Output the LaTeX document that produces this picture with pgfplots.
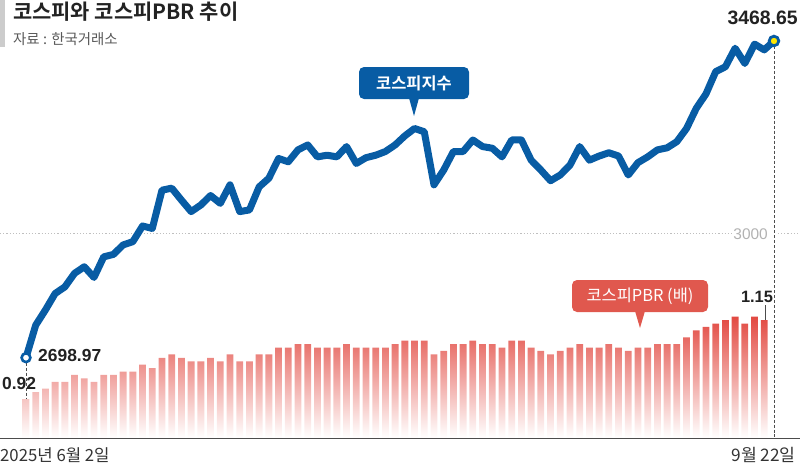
\documentclass[border=0pt]{standalone}
\usepackage{fontspec}
\setmainfont{Noto Sans CJK KR}[BoldFont={Noto Sans CJK KR Bold}]
\newfontfamily\numfont{Liberation Sans}
\usepackage{pgfplots}
\pgfplotsset{compat=1.18}

\definecolor{kblue}{RGB}{8,92,164}
\definecolor{kred}{RGB}{226,74,66}
\definecolor{boxred}{RGB}{224,88,78}
\definecolor{txt}{RGB}{34,34,34}

% both axes share the same frame: 800 x 438 bp, index 0 at x=26bp
\pgfplotsset{frame/.style={at={(0bp,0bp)}, anchor=north west,
    width=800bp, height=438bp, scale only axis,
    xmin=-2.6766, xmax=79.68, hide axis, clip=false}}

\begin{document}
\begin{tikzpicture}
\path[use as bounding box] (0,0) rectangle (800bp,-468bp);

% header
\fill[black!20] (0,0) rectangle (5bp,-47bp);
\node[anchor=west, inner sep=0, text=txt] at (13bp,-12bp)
  {\bfseries\fontsize{21}{24}\selectfont 코스피와 코스피PBR 추이};
\node[anchor=west, inner sep=0, text=black!65] at (13bp,-39bp)
  {\fontsize{14.5}{17}\selectfont 자료 : 한국거래소};

% PBR bars (axis starts at 0.8063)
\begin{axis}[frame, ymin=0, ymax=1.277]
\addplot[ybar, bar width=6.8bp, draw=none, top color=kred, bottom color=white,
  y filter/.expression={y-0.8063}] coordinates {
(0,0.92) (1,0.94) (2,0.95) (3,0.97) (4,0.97) (5,0.99) (6,0.98) (7,0.97) (8,0.99) (9,0.99)
(10,1.00) (11,1.00) (12,1.02) (13,1.01) (14,1.04) (15,1.05) (16,1.04) (17,1.03) (18,1.03) (19,1.04)
(20,1.03) (21,1.05) (22,1.03) (23,1.03) (24,1.05) (25,1.05) (26,1.07) (27,1.07) (28,1.08) (29,1.08)
(30,1.07) (31,1.07) (32,1.07) (33,1.08) (34,1.07) (35,1.07) (36,1.07) (37,1.07) (38,1.08) (39,1.09)
(40,1.09) (41,1.09) (42,1.05) (43,1.06) (44,1.08) (45,1.08) (46,1.09) (47,1.08) (48,1.08) (49,1.07)
(50,1.09) (51,1.09) (52,1.07) (53,1.06) (54,1.05) (55,1.06) (56,1.07) (57,1.08) (58,1.07) (59,1.07)
(60,1.08) (61,1.07) (62,1.06) (63,1.07) (64,1.07) (65,1.08) (66,1.08) (67,1.08) (68,1.10) (69,1.12)
(70,1.13) (71,1.14) (72,1.15) (73,1.16) (74,1.14) (75,1.16) (76,1.15)
};
\end{axis}

% KOSPI line
\begin{axis}[frame, ymin=2503.8, ymax=3568.2]
\addplot[black!25, dotted, line width=1.2bp] coordinates {(-2.6766,3000) (72.6,3000)};
\addplot[black!25, dotted, line width=1.2bp] coordinates {(77.4,3000) (79.68,3000)};
\addplot[black!70, densely dashed, line width=0.7bp] coordinates {(77,3468.65) (77,2503.8)};
\addplot[black!70, densely dashed, line width=0.7bp] coordinates {(0,2698.97) (0,2598.5)};
\addplot[kblue, line width=7bp, line join=round, line cap=round] coordinates {
(0,2698.97) (1,2778) (2,2815) (3,2855) (4,2871) (5,2904) (6,2920) (7,2894) (8,2944) (9,2950)
(10,2973) (11,2981) (12,3019) (13,3013) (14,3106) (15,3111) (16,3082) (17,3054) (18,3070) (19,3093)
(20,3074) (21,3119) (22,3054) (23,3058) (24,3114) (25,3135) (26,3183) (27,3175) (28,3204) (29,3216)
(30,3187) (31,3191) (32,3187) (33,3212) (34,3171) (35,3185) (36,3191) (37,3200) (38,3216) (39,3238)
(40,3256) (41,3248) (42,3119) (43,3155) (44,3200) (45,3200) (46,3228) (47,3212) (48,3208) (49,3187)
(50,3228) (51,3228) (52,3179) (53,3155) (54,3129) (55,3143) (56,3167) (57,3212) (58,3179) (59,3189)
(60,3197) (61,3189) (62,3143) (63,3173) (64,3187) (65,3204) (66,3209) (67,3224) (68,3256) (69,3305)
(70,3340) (71,3394) (72,3406) (73,3451) (74,3414) (75,3461) (76,3447) (77,3468.65)
};
\addplot[only marks, mark=*, mark size=4.4bp, mark options={fill=white, draw=kblue, line width=2.6bp}]
  coordinates {(0,2698.97)};
\addplot[only marks, mark=*, mark size=4.8bp, mark options={fill=yellow!90!orange, draw=kblue, line width=2.8bp}]
  coordinates {(77,3468.65)};
\end{axis}

% baseline
\draw[black!70, line width=1bp] (0,-438bp) -- (800bp,-438bp);

% value labels
\node[anchor=east, inner sep=0, text=black!30] at (768bp,-234bp)
  {\numfont\fontsize{15.5}{18}\selectfont 3000};
\node[anchor=west, inner sep=0, text=txt] at (38bp,-355bp)
  {\numfont\bfseries\fontsize{17.5}{20}\selectfont 2698.97};
\node[anchor=west, inner sep=0, text=txt] at (2bp,-383bp)
  {\numfont\bfseries\fontsize{17.5}{20}\selectfont 0.92};
\node[anchor=east, inner sep=0, text=txt] at (798bp,-18bp)
  {\numfont\bfseries\fontsize{19.5}{22}\selectfont 3468.65};
\node[anchor=center, inner sep=0, text=txt] at (757bp,-297bp)
  {\numfont\bfseries\fontsize{16.5}{19}\selectfont 1.15};
\draw[black!70, line width=0.7bp] (765.5bp,-305bp) -- (765.5bp,-320bp);

% callouts
\fill[kblue, rounded corners=5bp] (359bp,-67bp) rectangle (469bp,-99bp);
\fill[kblue] (409bp,-98bp) -- (419bp,-98bp) -- (414bp,-116bp) -- cycle;
\node[text=white, inner sep=0] at (414bp,-83bp)
  {\bfseries\fontsize{16.5}{19}\selectfont 코스피지수};

\fill[boxred, rounded corners=5bp] (572bp,-280bp) rectangle (708bp,-312bp);
\fill[boxred] (635bp,-311bp) -- (645bp,-311bp) -- (640bp,-328bp) -- cycle;
\node[text=white, inner sep=0] at (640bp,-296bp)
  {\fontsize{16.5}{19}\selectfont 코스피PBR (배)};

% dates
\node[anchor=west, inner sep=0, text=black!80] at (0bp,-455bp)
  {\fontsize{16.8}{19}\selectfont 2025년 6월 2일};
\node[anchor=east, inner sep=0, text=black!80] at (796bp,-455bp)
  {\fontsize{17.3}{19}\selectfont 9월 22일};
\end{tikzpicture}
\end{document}
